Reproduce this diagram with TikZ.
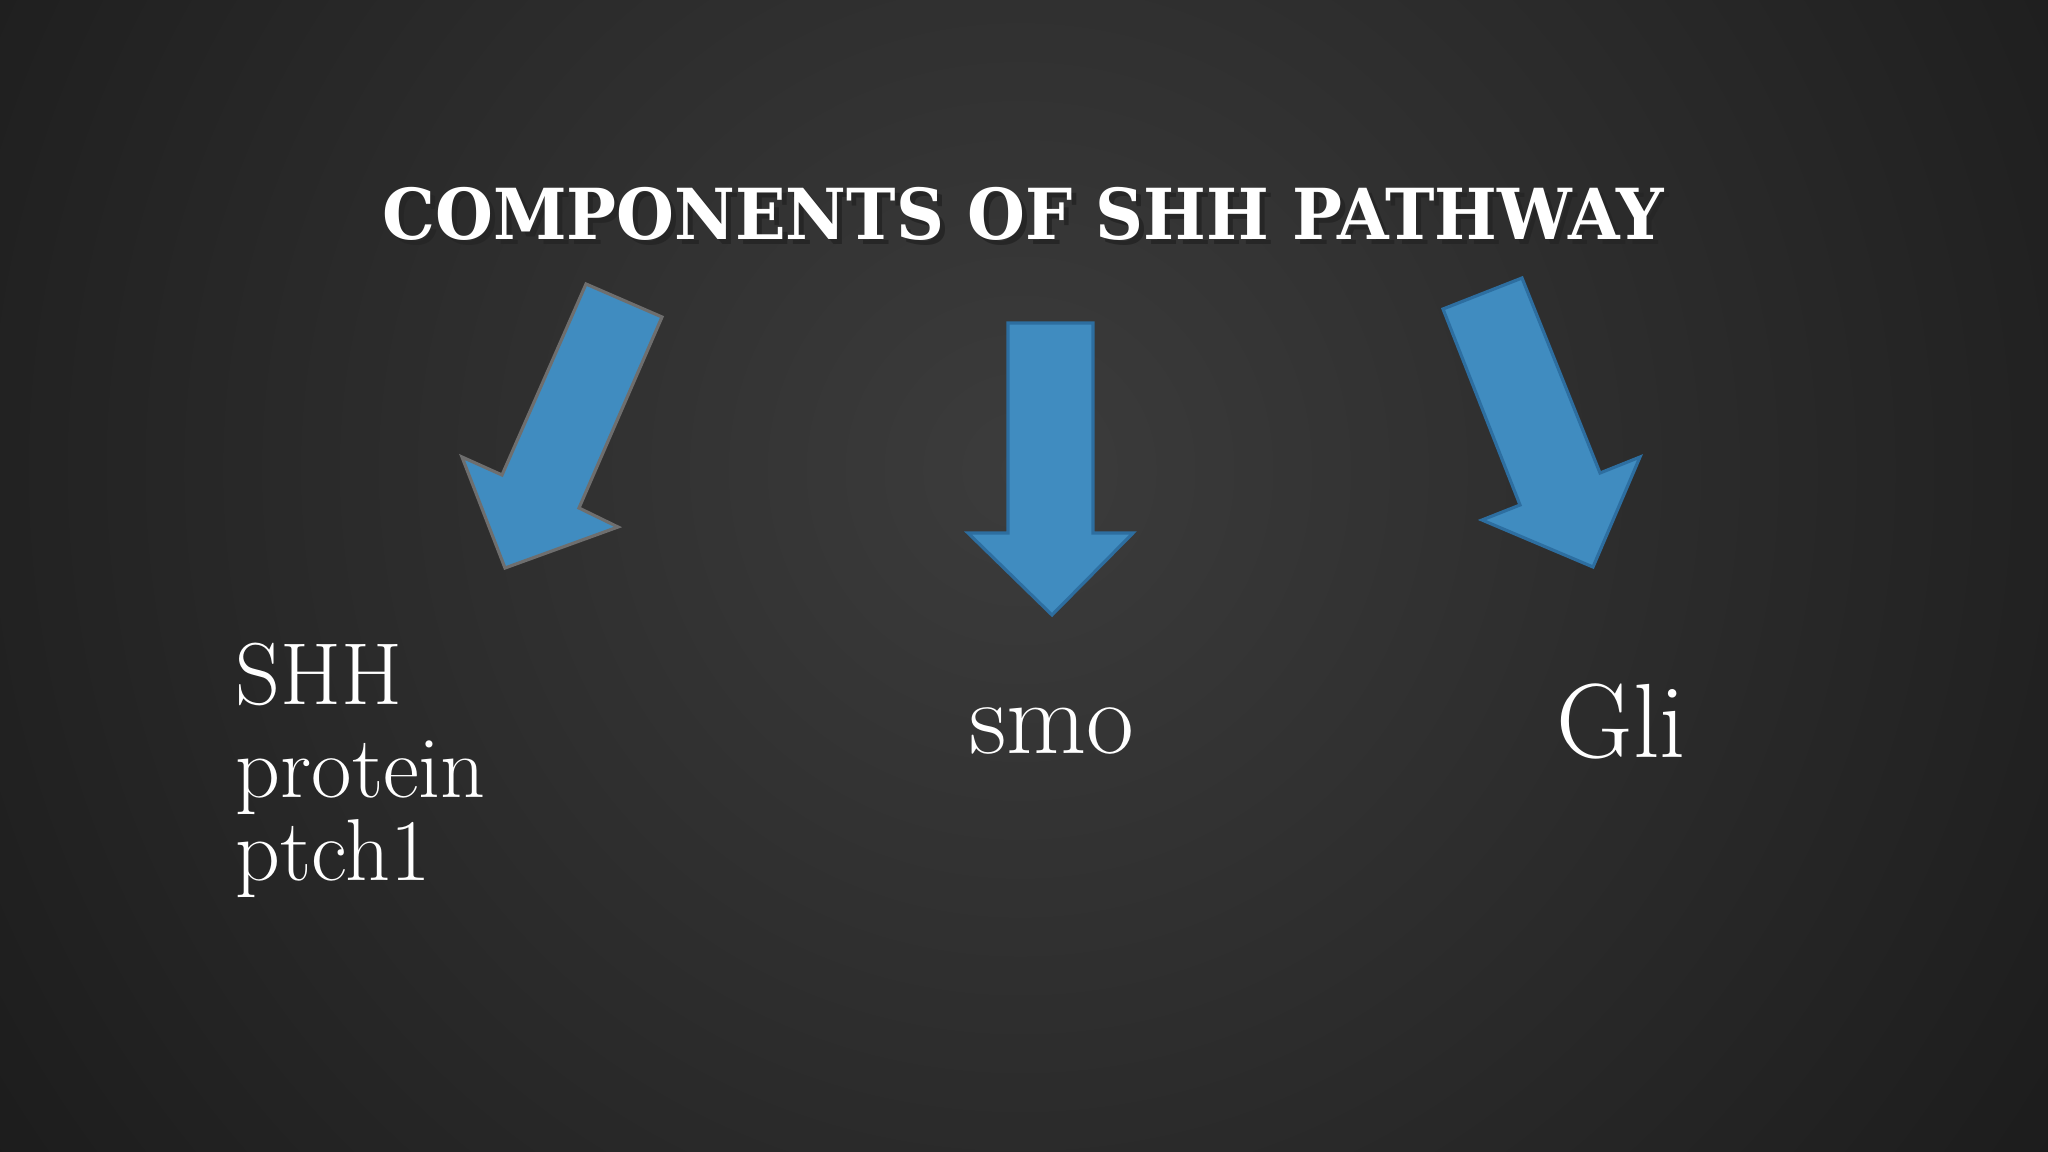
\documentclass[tikz,border=0pt]{standalone}
\usepackage{fontspec}
\usepackage{tikz}
\usetikzlibrary{positioning, calc}
\newfontfamily\titlefont{DejaVu Serif}
\definecolor{bg-dark}{RGB}{15, 15, 15}
\definecolor{bg-light}{RGB}{60, 60, 60}
\definecolor{arrow-blue}{RGB}{64, 140, 192}
\definecolor{edge-gray}{RGB}{110, 110, 110}
\definecolor{edge-blue}{RGB}{45, 110, 160}
\tikzstyle{blockarrow} = [fill=arrow-blue, line width=0.9pt, line join=miter]
\newcommand{\tikzlabelnode}[1]{\node[
  text=white, inner sep=0, font=\fontsize{#1}{#1}\selectfont
]}
\newcommand{\tikztitlenode}[1]{\node[
  text=#1, inner sep=0, anchor=base, xscale=0.945,
  font=\titlefont\bfseries\fontsize{20pt}{20pt}\selectfont
]}

\begin{document}
\begin{tikzpicture}[x=0.01cm, y=-0.01cm]
    % background
    \fill[bg-dark] (0, 0) rectangle (2048, 1152);
    \begin{scope}
      \clip (0, 0) rectangle (2048, 1152);
      \shade[inner color=bg-light, outer color=bg-dark] (1020, 470) circle (1750);
    \end{scope}
    \useasboundingbox (0, 0) rectangle (2048, 1152);

    % title
    \tikztitlenode{black!85} at (1028, 245) (titleshadow) {COMPONENTS OF SHH PATHWAY};
    \tikztitlenode{white}    at (1023, 240) (title)       {COMPONENTS OF SHH PATHWAY};

    % labels
    \tikzlabelnode{25pt} [anchor=base west] at (235, 704) (shh)     {SHH};
    \tikzlabelnode{25pt} [anchor=base west] at (235, 797) (protein) {protein};
    \tikzlabelnode{25pt} [anchor=base west] at (235, 880) (ptch)    {ptch1};
    \tikzlabelnode{29.5pt} [anchor=base]    at (1052, 753) (smo)    {smo};
    \tikzlabelnode{30pt} [anchor=base west] at (1556, 757) (gli)    {Gli};

    % arrows
    \draw[blockarrow, draw=edge-gray] (586, 284) -- (662, 317) -- (579, 508) -- (618, 527)
      -- (505, 568) -- (462, 457) -- (502, 475) -- cycle;
    \draw[blockarrow, draw=edge-blue] (1008, 323) -- (1093, 323) -- (1093, 533) -- (1133, 533)
      -- (1052, 615) -- (968, 533) -- (1008, 533) -- cycle;
    \draw[blockarrow, draw=edge-blue] (1443, 309) -- (1522, 278) -- (1600, 473) -- (1640, 457)
      -- (1593, 567) -- (1482, 520) -- (1520, 505) -- cycle;
  \end{tikzpicture}
\end{document}
